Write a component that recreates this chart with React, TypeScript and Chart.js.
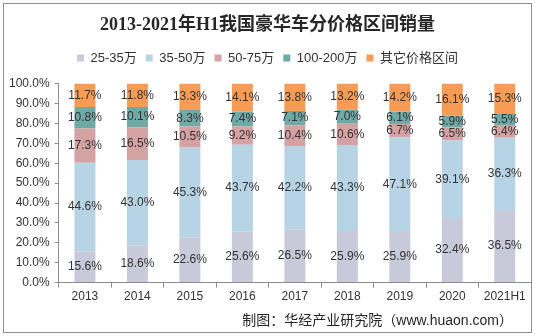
import React, { useEffect, useRef } from 'react';
import { Chart, registerables } from 'chart.js';

Chart.register(...registerables);

const categories = ['2013', '2014', '2015', '2016', '2017', '2018', '2019', '2020', '2021H1'];
const seriesNames = ['25-35万', '35-50万', '50-75万', '100-200万', '其它价格区间'];
const s25to35 = [15.6, 18.6, 22.6, 25.6, 26.5, 25.9, 25.9, 32.4, 36.5];
const s35to50 = [44.6, 43.0, 45.3, 43.7, 42.2, 43.3, 47.1, 39.1, 36.3];
const s50to75 = [17.3, 16.5, 10.5, 9.2, 10.4, 10.6, 6.7, 6.5, 6.4];
const s100to200 = [10.8, 10.1, 8.3, 7.4, 7.1, 7.0, 6.1, 5.9, 5.5];
const sOther = [11.7, 11.8, 13.3, 14.1, 13.8, 13.2, 14.2, 16.1, 15.3];
const seriesColors = ['#C8CAD9', '#B7D4E5', '#D5A2A4', '#6FAAA6', '#F79B55'];
const titleText = '2013-2021年H1我国豪华车分价格区间销量';
const footerText = '制图：华经产业研究院（www.huaon.com）';

const SANS = "'Liberation Sans', Arial, 'Noto Sans CJK SC', sans-serif";

const valueLabels = {
  id: 'valueLabels',
  afterDatasetsDraw(chart: any) {
    const ctx = chart.ctx;
    ctx.save();
    ctx.font = `12px ${SANS}`;
    ctx.fillStyle = '#333333';
    ctx.textAlign = 'center';
    ctx.textBaseline = 'middle';
    chart.data.datasets.forEach((ds: any, di: number) => {
      const meta = chart.getDatasetMeta(di);
      meta.data.forEach((el: any, i: number) => {
        const v = ds.data[i];
        const cy = (el.y + el.base) / 2;
        ctx.fillText(v.toFixed(1) + '%', el.x, cy);
      });
    });
    ctx.restore();
  },
};

const legendGap = {
  id: 'legendGap',
  beforeInit(chart: any) {
    const lg = chart.legend;
    if (lg) {
      const orig = lg.fit;
      lg.fit = function () {
        orig.call(this);
        this.height += 9;
      };
    }
  },
};

export default function App() {
  const ref = useRef<HTMLCanvasElement>(null);
  useEffect(() => {
    const seriesData = [s25to35, s35to50, s50to75, s100to200, sOther];
    const chart = new Chart(ref.current!, {
      type: 'bar',
      data: {
        labels: categories,
        datasets: seriesNames.map((name, i) => ({
          label: name,
          data: seriesData[i],
          backgroundColor: seriesColors[i],
          borderWidth: 0,
          categoryPercentage: 1,
          barPercentage: 0.4,
        })),
      },
      options: {
        animation: false,
        responsive: false,
        layout: { padding: { left: 4, right: 4, top: 0, bottom: 30 } },
        plugins: {
          title: {
            display: true,
            text: titleText,
            color: '#262626',
            font: { family: "'Liberation Serif', 'Noto Sans CJK SC', serif", size: 18, weight: 'bold' },
            padding: { top: 15, bottom: 6 },
          },
          legend: {
            display: true,
            position: 'top',
            labels: {
              boxWidth: 7,
              boxHeight: 7,
              padding: 9,
              color: '#333333',
              font: { family: SANS, size: 13 },
            },
          },
          tooltip: { enabled: false },
        },
        scales: {
          x: {
            stacked: true,
            grid: { display: true, drawOnChartArea: false, drawTicks: true, tickLength: 5, color: '#8c8c8c', offset: true },
            border: { display: true, color: '#8c8c8c' },
            ticks: { color: '#333333', font: { family: SANS, size: 12 }, padding: 2, maxRotation: 0 },
          },
          y: {
            stacked: true,
            min: 0,
            max: 100,
            grid: { display: true, drawOnChartArea: false, drawTicks: true, tickLength: 4, color: '#8c8c8c' },
            border: { display: true, color: '#8c8c8c' },
            ticks: {
              stepSize: 10,
              color: '#333333',
              font: { family: SANS, size: 12 },
              padding: 5,
              callback: (v: any) => Number(v).toFixed(1) + '%',
            },
          },
        },
      },
      plugins: [valueLabels, legendGap],
    } as any);
    return () => chart.destroy();
  }, []);

  return (
    <div style={{ position: 'absolute', left: 0, top: 0, width: 535, height: 336, background: '#fff' }}>
      <canvas ref={ref} width={535} height={336} style={{ position: 'absolute', left: 0, top: 0 }} />
      <div
        style={{
          position: 'absolute',
          left: 3,
          top: 3,
          width: 529,
          height: 330,
          boxSizing: 'border-box',
          border: '1px solid #8c8c8c',
          pointerEvents: 'none',
        }}
      />
      <div
        style={{
          position: 'absolute',
          right: 22,
          top: 311,
          fontFamily: SANS,
          fontSize: 14,
          lineHeight: '18px',
          color: '#262626',
          whiteSpace: 'nowrap',
        }}
      >
        {footerText}
      </div>
    </div>
  );
}
